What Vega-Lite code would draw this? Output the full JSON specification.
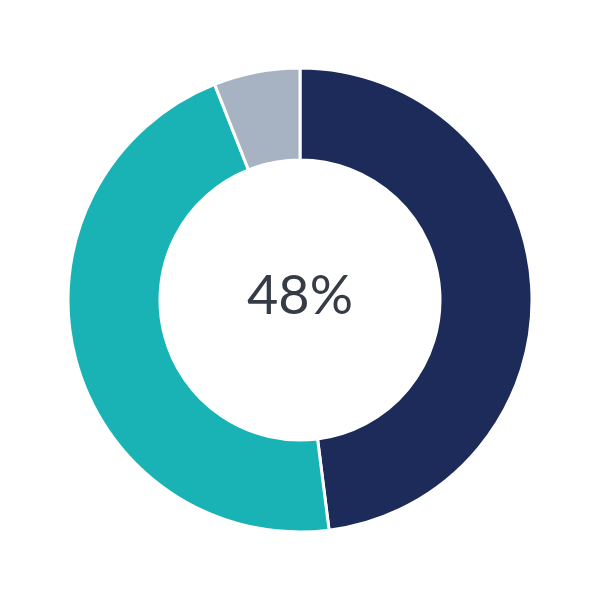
{
  "$schema": "https://vega.github.io/schema/vega-lite/v6.json",
  "width": 600,
  "height": 600,
  "padding": 0,
  "autosize": {"type": "fit", "contains": "padding"},
  "background": "white",
  "data": {
    "values": [
      {"segment": "A", "order": 1, "share": 48},
      {"segment": "B", "order": 2, "share": 46},
      {"segment": "C", "order": 3, "share": 6}
    ]
  },
  "layer": [
    {
      "mark": {"type": "arc", "outerRadius": 232, "innerRadius": 140, "stroke": "white", "strokeWidth": 3},
      "encoding": {
        "theta": {"field": "share", "type": "quantitative", "stack": true},
        "order": {"field": "order", "type": "quantitative"},
        "color": {
          "field": "segment",
          "type": "nominal",
          "legend": null,
          "scale": {"domain": ["A", "B", "C"], "range": ["#1c2b5a", "#1ab3b5", "#a7b3c3"]}
        }
      }
    },
    {
      "data": {"values": [{"label": "48%"}]},
      "mark": {"type": "text", "fontSize": 54, "font": "Lato", "fontWeight": 400, "color": "#363c46", "baseline": "middle", "align": "center", "dy": -2},
      "encoding": {"text": {"field": "label"}}
    }
  ],
  "config": {"view": {"stroke": null}}
}
